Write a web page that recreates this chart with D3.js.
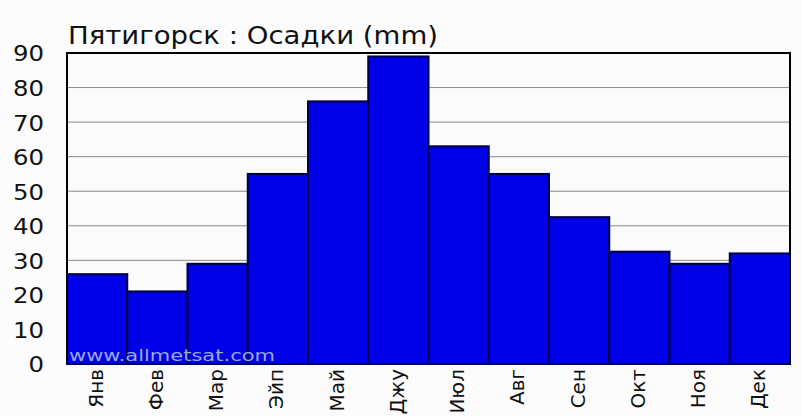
<!DOCTYPE html>
<html><head><meta charset="utf-8">
<script src="https://cdn.jsdelivr.net/npm/d3@7"></script>
<style>body{margin:0;background:#fff;}svg{display:block;}</style>
</head><body>
<svg id="c" width="802" height="416"></svg>
<script>
const months = ["Янв","Фев","Мар","Эйп","Май","Джу","Июл","Авг","Сен","Окт","Ноя","Дек"];
const precip = [26, 21, 29, 55, 76, 89, 63, 55, 42.5, 32.5, 29, 32];
const yTicks = [0,10,20,30,40,50,60,70,80,90];
const title = "Пятигорск : Осадки (mm)";

const svg = d3.select("#c");
const L=67, R=790, T=53, B=364;
const FONT = "DejaVu Sans, Verdana, sans-serif";
const x = d3.scaleBand().domain(months).range([L,R]).padding(0);
const y = d3.scaleLinear().domain([0,90]).range([B,T]);

svg.append("rect").attr("width",802).attr("height",416).attr("fill","#fcfcfc");
svg.append("rect").attr("x",L).attr("y",T).attr("width",R-L).attr("height",B-T).attr("fill","#fbfbfb");

svg.append("g").selectAll("line").data(yTicks.filter(d=>d>0&&d<90)).join("line")
  .attr("x1",L).attr("x2",R).attr("y1",d=>y(d)).attr("y2",d=>y(d))
  .attr("stroke","#8a8a8a").attr("stroke-width",1);

svg.append("g").selectAll("rect").data(months).join("rect")
  .attr("x",d=>x(d)).attr("width",x.bandwidth())
  .attr("y",(d,i)=>y(precip[i])).attr("height",(d,i)=>B-y(precip[i]))
  .attr("fill","#0000e8").attr("stroke","#000044").attr("stroke-width",2);

svg.append("text").attr("x",69).attr("y",361).text("www.allmetsat.com")
  .attr("font-family",FONT).attr("font-size",16).attr("textLength",206).attr("lengthAdjust","spacingAndGlyphs")
  .attr("fill","#9aa8e0");

// frame
svg.append("path").attr("d",`M${L},${B}V${T}H${R}V${B}`).attr("fill","none").attr("stroke","#000").attr("stroke-width",2);

const yAxis = d3.axisLeft(y).tickValues(yTicks).tickSize(0).tickPadding(0);
const ga = svg.append("g").attr("transform",`translate(44,0)`).call(yAxis);
ga.select(".domain").remove();
ga.selectAll("text").attr("font-family",FONT).attr("font-size",22).attr("fill","#111").attr("dy","0.36em")
  .attr("textLength",d=>String(d).length*15.5).attr("lengthAdjust","spacingAndGlyphs");

const xAxis = d3.axisBottom(x).tickSize(0).tickPadding(0);
const gx = svg.append("g").attr("transform",`translate(0,${B+5})`).call(xAxis);
gx.select(".domain").remove();
gx.selectAll("text").attr("font-family",FONT).attr("font-size",20).attr("fill","#111")
  .attr("text-anchor","end").attr("dy",null).attr("dominant-baseline","middle")
  .attr("transform","rotate(-90)").attr("x",0).attr("y",0);

svg.append("text").attr("x",68).attr("y",44).text(title)
  .attr("font-family",FONT).attr("font-size",24).attr("fill","#111")
  .attr("textLength",370).attr("lengthAdjust","spacingAndGlyphs");
</script>
</body></html>
